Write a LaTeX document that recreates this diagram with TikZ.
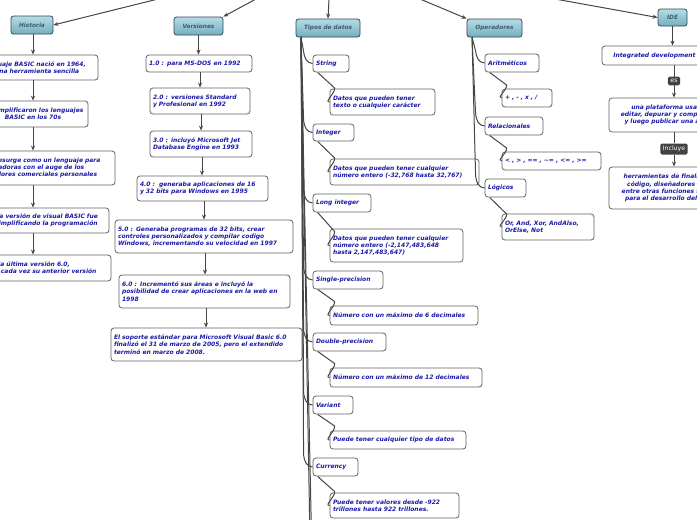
\documentclass[tikz,border=0pt]{standalone}
\usepackage{fontspec}
\usetikzlibrary{arrows.meta}
\newfontfamily\df{DejaVu Sans}
\definecolor{txt}{HTML}{1A1AA8}
\definecolor{ln}{HTML}{454545}
\definecolor{tb1}{HTML}{B5DCE6}
\definecolor{tb2}{HTML}{74AEC0}
\definecolor{tbd}{HTML}{2E4A55}
\definecolor{ttx}{HTML}{3E5E6B}
\hyphenpenalty=10000
\exhyphenpenalty=10000
\newcommand{\bx}[7][left]{\pgfmathsetmacro\bw{#5-#3}\pgfmathsetmacro\tw{#5-#3-6}\pgfmathsetmacro\bh{#6-#4}%
\node[cbox,align=#1,text width=\tw pt,minimum width=\bw pt,minimum height=\bh pt] (#2) at ({(#3+#5)/2},{(#4+#6)/2}) {#7};}
\newcommand{\tb}[6]{\pgfmathsetmacro\bw{#4-#2}\pgfmathsetmacro\bh{#5-#3}%
\node[tbox,minimum width=\bw pt,minimum height=\bh pt] (#1) at ({(#2+#4)/2},{(#3+#5)/2}) {#6};}
\begin{document}
\hyphenpenalty=10000
\begin{tikzpicture}[x=1pt,y=-1pt,
 cbox/.style={draw=ln!85,line width=0.8pt,rounded corners=3pt,fill=white,inner xsep=3pt,inner ysep=1pt,
   font=\df\bfseries\itshape\fontsize{6}{7.2}\selectfont,text=txt},
 tbox/.style={draw=tbd,line width=0.8pt,rounded corners=2.5pt,top color=tb1,bottom color=tb2,inner sep=1pt,
   font=\df\bfseries\itshape\fontsize{5.8}{7}\selectfont,text=ttx},
 lbl/.style={fill=ln!95!black,rounded corners=1.5pt,text=white,font=\df\fontsize{6.2}{7.4}\selectfont,inner sep=2.5pt},
 arr/.style={draw=ln,line width=1pt,-{Stealth[length=5pt,width=4pt]}},
 br/.style={draw=ln,line width=1pt}]
\useasboundingbox (0,0) rectangle (697,520);
\coordinate (s1) at (158,-1);
\coordinate (s2) at (256,-1);
\coordinate (s3) at (329,-1);
\coordinate (s4) at (420,-1);
\coordinate (s5) at (555,-1);
% titles
\tb{hist}{11}{16}{53}{34}{Historia}
\tb{vers}{174}{17}{223}{35}{Versiones}
\tb{tipos}{296}{19}{360}{37}{Tipos de datos}
\tb{oper}{467}{19}{522}{37}{Operadores}
\tb{ide}{658}{9}{687}{26}{IDE}
\draw[arr] (s1) -- (hist.east);
\draw[arr] (s2) -- (vers.north east);
\draw[arr] (s3) -- (tipos.north);
\draw[arr] (s4) -- (oper.north west);
\draw[arr] (s5) -- (ide.west);
% Historia
\bx{h1}{-28}{55}{98}{80}{El lenguaje BASIC nació en 1964,\\ como una herramienta sencilla}
\bx[center]{h2}{-22}{101}{88}{127}{Se simplificaron los lenguajes\\ BASIC en los 70s}
\bx{h3}{-30}{151}{115}{185}{BASIC resurge como un lenguaje para\\ computadoras con el auge de los\\ ordenadores comerciales personales}
\bx{h4}{-36}{208}{109}{233}{La primera versión de visual BASIC fue\\ lanzada simplificando la programación}
\bx{h5}{-40}{255}{111}{281}{Se instaló la última versión 6.0,\\ superando cada vez su anterior versión}
\foreach \a/\b in {hist/h1,h1/h2,h2/h3,h3/h4,h4/h5}{\draw[arr] (\a.south -| 33,0) -- (\b.north -| 33,0);}
% Versiones
\bx{v1}{146}{55}{252}{72}{1.0 : para MS-DOS en 1992}
\bx{v2}{150}{88}{250}{114}{2.0 : versiones Standard\\ y Profesional en 1992}
\bx{v3}{150}{131}{252}{157}{3.0 : incluyó Microsoft Jet\\ Database Engine en 1993}
\bx{v4}{137}{176}{268}{201}{4.0 :\ \ generaba aplicaciones de 16\\ y 32 bits para Windows en 1995}
\bx{v5}{115}{220}{293}{253}{5.0 : Generaba programas de 32 bits, crear\\ controles personalizados y compilar codigo\\ Windows, incrementando su velocidad en 1997}
\bx{v6}{119}{275}{290}{308}{6.0 : Incrementó sus áreas e incluyó la\\ posibilidad de crear aplicaciones en la web en\\ 1998}
\bx{v7}{111}{328}{302}{361}{El soporte estándar para Microsoft Visual Basic 6.0\\ finalizó el 31 de marzo de 2005, pero el extendido\\ terminó en marzo de 2008.}
\draw[arr] (vers.south) -- (v1.north -| vers.south);
\draw[arr] (v1.south -| 200,0) -- (v2.north -| 200,0);
\draw[arr] (v2.south -| 201,0) -- (v3.north -| 201,0);
\draw[arr] (v3.south -| 202,0) -- (v4.north -| 202,0);
\draw[arr] (v4.south -| 204,0) -- (v5.north -| 204,0);
\draw[arr] (v5.south -| 205,0) -- (v6.north -| 205,0);
\draw[arr] (v6.south -| 206,0) -- (v7.north -| 206,0);
% Tipos
\coordinate (tt) at (301,37);
\bx{t1}{313}{55}{349}{72}{String}
\bx{d1}{330}{89}{435}{115}{Datos que pueden tener\\ texto o cualquier carácter}
\bx{t2}{313}{124}{354}{141}{Integer}
\bx{d2}{330}{159}{479}{185}{Datos que pueden tener cualquier\\ número entero (-32,768 hasta 32,767)}
\bx{t3}{313}{194}{371}{212}{Long integer}
\bx{d3}{330}{229}{463}{262}{Datos que pueden tener cualquier\\ número entero (-2,147,483,648\\ hasta 2,147,483,647)}
\bx{t4}{313}{271}{383}{289}{Single-precision}
\bx{d4}{330}{306}{478}{325}{Número con un máximo de 6 decimales}
\bx{t5}{313}{333}{386}{351}{Double-precision}
\bx{d5}{330}{368}{482}{387}{Número con un máximo de 12 decimales}
\bx{t6}{313}{396}{353}{414}{Variant}
\bx{d6}{330}{431}{466}{449}{Puede tener cualquier tipo de datos}
\bx{t7}{313}{458}{358}{476}{Currency}
\bx{d7}{330}{493}{459}{518}{Puede tener valores desde -922\\ trillones hasta 922 trillones.}
\coordinate (t8) at (310,540);
\coordinate (t9) at (312,560);
\foreach \t/\d in {t1/d1,t2/d2,t3/d3,t4/d4,t5/d5,t6/d6,t7/d7}{
  \draw[br] (tt) -- ([xshift=-9pt,yshift=12pt]\t.west) to[out=-85,in=180] (\t.west);
  \draw[br] ([xshift=5pt]\t.south west) -- ([xshift=5pt,yshift=14pt]\d.west) to[out=-85,in=180] (\d.west);}
\draw[br] (tt) -- (t8);
\draw[br] (tt) -- (t9);
% Operadores
\coordinate (ot) at (472,37);
\bx{o1}{485}{54}{539}{72}{Aritméticos}
\bx{p1}{502}{89}{552}{107}{+ , - , x , /}
\bx{o2}{485}{117}{543}{135}{Relacionales}
\bx{p2}{502}{152}{601}{170}{< , > , == , \textasciitilde= , <= , >=}
\bx{o3}{485}{179}{526}{197}{Lógicos}
\bx{p3}{502}{214}{594}{240}{Or, And, Xor, AndAlso,\\ OrElse, Not}
\foreach \t/\d in {o1/p1,o2/p2,o3/p3}{
  \draw[br] (ot) -- ([xshift=-9pt,yshift=12pt]\t.west) to[out=-85,in=180] (\t.west);
  \draw[br] ([xshift=5pt]\t.south west) -- ([xshift=5pt,yshift=13pt]\d.west) to[out=-85,in=180] (\d.west);}
% IDE
\bx[center]{i1}{602}{46}{752}{65}{Integrated development environment}
\bx[center]{i2}{609}{98}{745}{132}{una plataforma usada para\\ editar, depurar y compilar código\\ y luego publicar una aplicación}
\bx[center]{i3}{609}{167}{745}{209}{herramientas de finalización de\\ código, diseñadores gráficos,\\ entre otras funciones facilitando\\ para el desarrollo del software}
\node[lbl] (es) at (674,81) {es};
\node[lbl] (inc) at (674,149) {Incluye};
\draw[arr] (ide.south) -- (i1.north -| ide.south);
\draw[br] (i1.south -| es.north) -- (es.north);
\draw[arr] (es.south) -- (i2.north -| es.south);
\draw[br] (i2.south -| inc.north) -- (inc.north);
\draw[arr] (inc.south) -- (i3.north -| inc.south);
\end{tikzpicture}
\end{document}
